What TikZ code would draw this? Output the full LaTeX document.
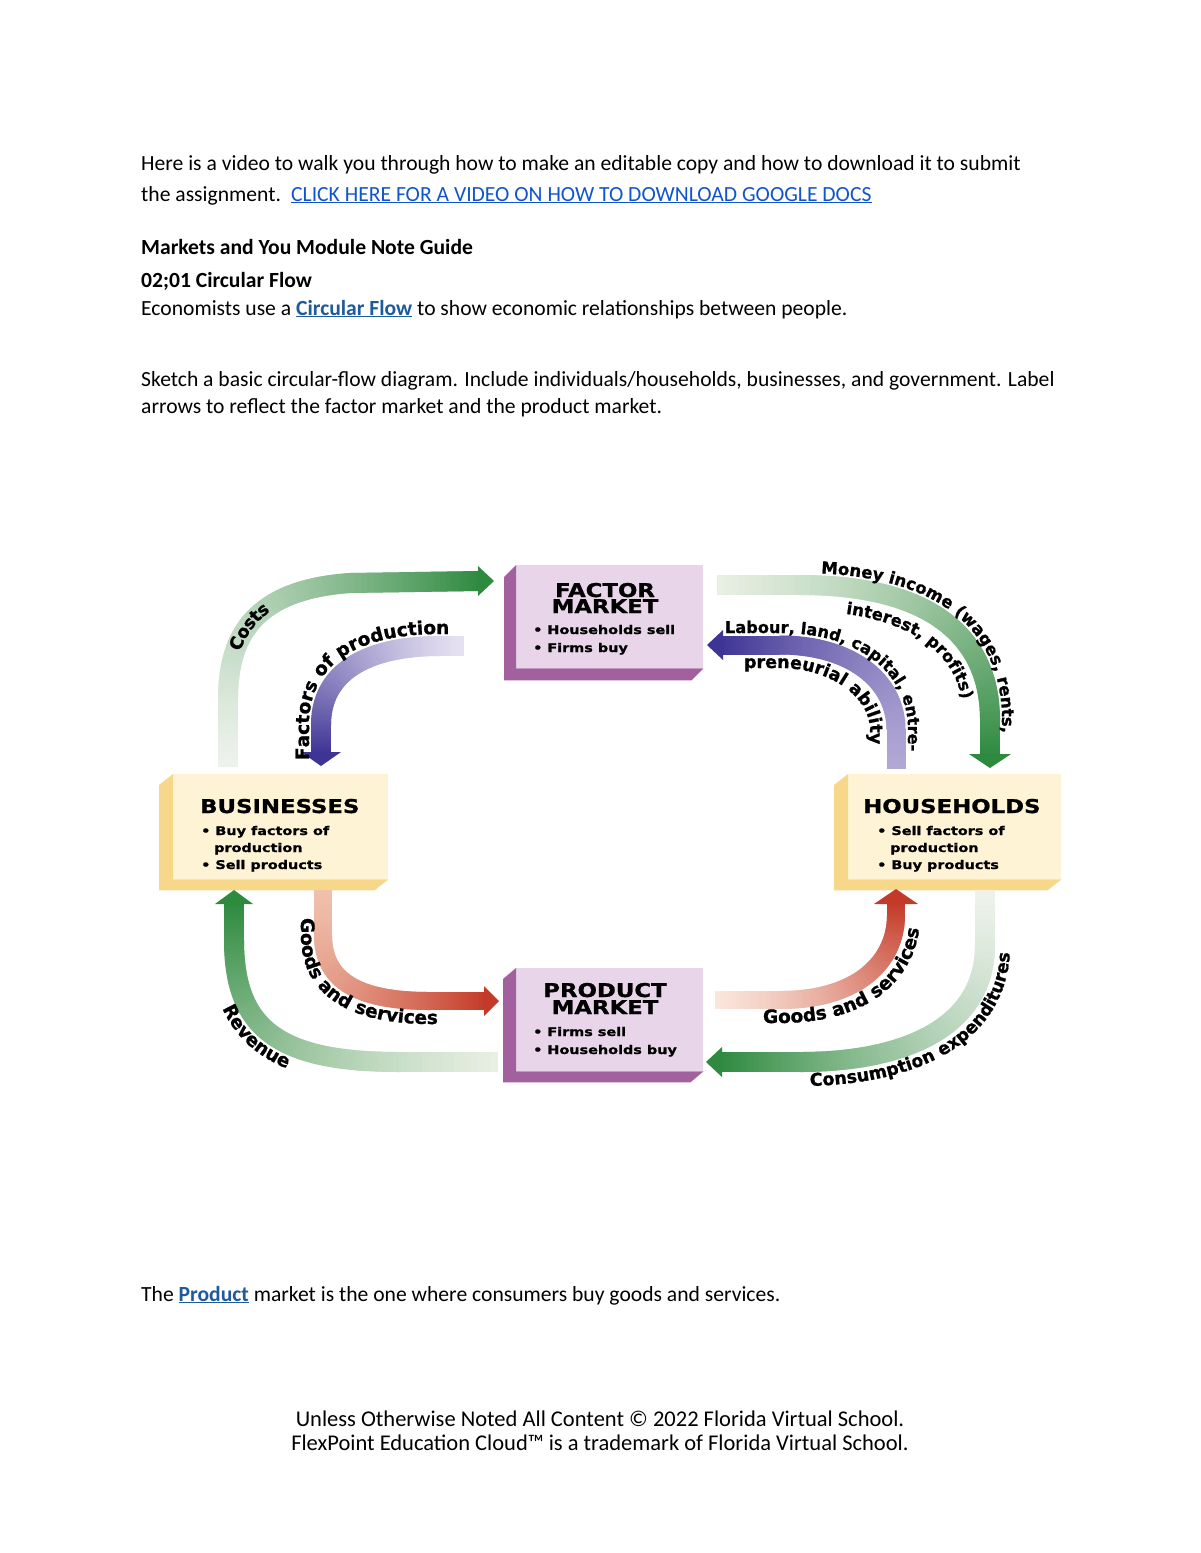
\documentclass[tikz,border=0pt]{standalone}
\usepackage{fontspec}
\setmainfont{Carlito}
\newfontfamily\lblfont[BoldFeatures={FakeBold=1}]{DejaVu Sans}
\newfontfamily\boxfont[FakeStretch=1.2,BoldFeatures={FakeBold=1}]{DejaVu Sans}
\usetikzlibrary{decorations.markings,decorations.text,calc}
\definecolor{linkblue}{HTML}{1155CC}
\definecolor{darklink}{HTML}{1F5A9C}
\definecolor{gHi}{HTML}{2E8A3F}
\definecolor{gLoA}{HTML}{EEF2EC}
\definecolor{gLoB}{HTML}{E8EFE3}
\definecolor{pHi}{HTML}{3E3495}
\definecolor{pLoA}{HTML}{E6E1F2}
\definecolor{pLoB}{HTML}{B2A8D6}
\definecolor{rHi}{HTML}{C43A28}
\definecolor{rLoA}{HTML}{F0C0AC}
\definecolor{rLoB}{HTML}{FBE6DC}
\definecolor{mktF}{HTML}{E8D5E9}
\definecolor{mktS}{HTML}{A3609F}
\definecolor{hhF}{HTML}{FEF4D5}
\definecolor{hhS}{HTML}{F7D78A}
\tikzset{
  bodytxt/.style={anchor=base west, inner sep=0pt, font=\fontsize{21.6}{26}\selectfont},
  foottxt/.style={anchor=base, inner sep=0pt, font=\fontsize{22.5}{26}\selectfont},
  mktface/.style={fill=mktF, inner sep=0pt, minimum width=187pt, minimum height=103pt, anchor=north west},
  hhface/.style={fill=hhF, inner sep=0pt, minimum width=214pt, minimum height=105pt, anchor=north west},
  boxtitle/.style={inner sep=0pt, font=\boxfont\bfseries\fontsize{19}{19}\selectfont},
  boxitem/.style={inner sep=0pt, anchor=base west, font=\boxfont\bfseries\fontsize{12}{12}\selectfont},
  gband/.style n args={3}{
    decoration={markings,
      mark=between positions 0 and 1 step 1pt with {
        \pgfmathsetmacro\gfr{\pgfkeysvalueof{/pgf/decoration/mark info/distance from start}/\pgfdecoratedpathlength}
        \pgfmathtruncatemacro\gpct{100*\gfr*(0.55+0.45*\gfr)}
        \fill[#2!\gpct!#1] (-0.8pt,-#3) rectangle (0.8pt,#3);
      }},
    decorate},
  lbltext/.style n args={4}{decorate,
    decoration={text along path, text={|\lblfont\bfseries\fontsize{#4}{#4}\selectfont|#1}, text align={left indent=#2}, raise=#3}},
}
\begin{document}
\begin{tikzpicture}[x=1pt,y=-1pt]
\fill[white] (0,0) rectangle (1200,1553);
\useasboundingbox (0,0) rectangle (1200,1553);

% ---------- document text ----------
\node[bodytxt] (t1) at (141,170) {Here is a video to walk you through how to make an editable copy and how to download it to submit};
\node[bodytxt] (t2) at (141,201) {the assignment.};
\node[bodytxt, text=linkblue] (t2link) at (291,201) {\underline{CLICK HERE FOR A VIDEO ON HOW TO DOWNLOAD GOOGLE DOCS}};
\node[bodytxt, font=\fontsize{21.6}{26}\selectfont\bfseries] (t3) at (141,254) {Markets and You Module Note Guide};
\node[bodytxt, font=\fontsize{21.6}{26}\selectfont\bfseries] (t4) at (141,287) {02;01 Circular Flow};
\node[bodytxt] (t5) at (141,315) {Economists use a \textcolor{darklink}{\underline{\textbf{Circular Flow}}} to show economic relationships between people.};
\node[bodytxt] (t6) at (141,386) {Sketch a basic circular-flow diagram. Include individuals/households, businesses, and government. Label};
\node[bodytxt] (t7) at (141,413) {arrows to reflect the factor market and the product market.};
\node[bodytxt] (t8) at (141,1301) {The \textcolor{darklink}{\underline{\textbf{Product}}} market is the one where consumers buy goods and services.};
\node[foottxt] (f1) at (600,1426) {Unless Otherwise Noted All Content © 2022 Florida Virtual School.};
\node[foottxt] (f2) at (600,1450) {FlexPoint Education Cloud™ is a trademark of Florida Virtual School.};

% ---------- boxes ----------
\node[mktface] (factor) at (516,565) {};
\fill[mktS] (factor.north west) -- ++(-12,12) -- ($(factor.south west)+(-12,12)$) -- ($(factor.south east)+(-12,12)$) -- (factor.south east) -- (factor.south west) -- cycle;
\node[boxtitle, anchor=base] (fm1) at (605,597) {FACTOR};
\node[boxtitle, anchor=base] (fm2) at (605,613) {MARKET};
\node[boxitem] (fm3) at (533,634) {• Households sell};
\node[boxitem] (fm4) at (533,652) {• Firms buy};

\node[mktface] (product) at (516,968) {};
\fill[mktS] (product.north west) -- ++(-13,11) -- ($(product.south west)+(-13,11)$) -- ($(product.south east)+(-13,11)$) -- (product.south east) -- (product.south west) -- cycle;
\node[boxtitle, anchor=base] (pm1) at (605,997) {PRODUCT};
\node[boxtitle, anchor=base] (pm2) at (605,1014) {MARKET};
\node[boxitem] (pm3) at (533,1036) {• Firms sell};
\node[boxitem] (pm4) at (533,1054) {• Households buy};

\node[hhface, minimum width=215pt] (business) at (173,774) {};
\fill[hhS] (business.north west) -- ++(-14,11) -- ($(business.south west)+(-14,11)$) -- ($(business.south east)+(-14,11)$) -- (business.south east) -- (business.south west) -- cycle;
\node[boxtitle, anchor=base west] (bs1) at (200,813) {BUSINESSES};
\node[boxitem] (bs2) at (201,835) {• Buy factors of};
\node[boxitem] (bs3) at (214,852) {production};
\node[boxitem] (bs4) at (201,869) {• Sell products};

\node[hhface, minimum width=213pt] (house) at (848,774) {};
\fill[hhS] (house.north west) -- ++(-14,11) -- ($(house.south west)+(-14,11)$) -- ($(house.south east)+(-14,11)$) -- (house.south east) -- (house.south west) -- cycle;
\node[boxtitle, anchor=base west] (hh1) at (863,813) {HOUSEHOLDS};
\node[boxitem] (hh2) at (877,835) {• Sell factors of};
\node[boxitem] (hh3) at (890,852) {production};
\node[boxitem] (hh4) at (877,869) {• Buy products};

% ---------- arrow end points ----------
\coordinate (cost0) at (228,766);   \coordinate (cost1) at (479,581);
\coordinate (fac0) at (463,646);    \coordinate (fac1) at (321,753);
\coordinate (mon0) at (718,585);    \coordinate (mon1) at (990,755);
\coordinate (lab0) at (896,768);    \coordinate (lab1) at (722,645);
\coordinate (gdl0) at (323,891);    \coordinate (gdl1) at (485,1001);
\coordinate (rev0) at (497,1062);   \coordinate (rev1) at (234,904);
\coordinate (gdr0) at (716,1000);   \coordinate (gdr1) at (896,904);
\coordinate (con0) at (985,892);    \coordinate (con1) at (722,1062);

% ---------- arrows ----------
% Costs
\path[gband={gLoA}{gHi}{10pt}] (cost0) -- (228,700) .. controls (228,640) and (250,590) .. (350,583) -- (cost1);
\fill[gHi] (494,581) -- (478,566) -- (478,596) -- cycle;
% Factors of production
\path[gband={pLoA}{pHi}{10pt}] (fac0) -- (440,646) .. controls (370,646) and (321,670) .. (321,725) -- (fac1);
\fill[pHi] (321,766) -- (301,752) -- (341,752) -- cycle;
% Money income
\path[gband={gLoB}{gHi}{10pt}] (mon0) -- (800,585) .. controls (935,585) and (990,640) .. (990,720) -- (mon1);
\fill[gHi] (990,768) -- (969,754) -- (1011,754) -- cycle;
% Labour
\path[gband={pLoB}{pHi}{9.5pt}] (lab0) -- (896,730) .. controls (896,680) and (850,645) .. (780,645) -- (lab1);
\fill[pHi] (707,645) -- (723,630) -- (723,660) -- cycle;
% Goods and services (left)
\path[gband={rLoA}{rHi}{9pt}] (gdl0) -- (323,935) .. controls (323,985) and (365,1001) .. (430,1001) -- (gdl1);
\fill[rHi] (499,1001) -- (484,986) -- (484,1016) -- cycle;
% Revenue
\path[gband={gLoB}{gHi}{10pt}] (rev0) -- (400,1062) .. controls (280,1062) and (234,1030) .. (234,940) -- (rev1);
\fill[gHi] (234,890) -- (215,904) -- (253,904) -- cycle;
% Goods and services (right)
\path[gband={rLoB}{rHi}{9pt}] (gdr0) -- (780,1000) .. controls (860,1000) and (896,960) .. (896,915) -- (gdr1);
\fill[rHi] (896,889) -- (874,904) -- (918,904) -- cycle;
% Consumption expenditures
\path[gband={gLoA}{gHi}{10pt}] (con0) -- (985,945) .. controls (985,1030) and (900,1062) .. (800,1062) -- (con1);
\fill[gHi] (706,1062) -- (722,1047) -- (722,1077) -- cycle;

% ---------- curved labels ----------
\path[lbltext={Costs}{117pt}{-5pt}{17.5}] (cost0) -- (228,700) .. controls (228,640) and (250,590) .. (350,583) -- (cost1);
\path[lbltext={Factors of production}{15pt}{0pt}{18.5}] (309,775) -- (309,725) .. controls (309,662) and (360,634) .. (440,634) -- (520,634);
\path[lbltext={Money income (wages, rents,}{103pt}{0pt}{16.6}] (718,573) -- (800,573) .. controls (944,573) and (1002,634) .. (1002,720) -- (1002,820);
\path[lbltext={interest, profits)}{128pt}{0pt}{16.5}] (718,611) -- (800,611) .. controls (911,611) and (964,655) .. (964,720) -- (964,820);
\path[lbltext={Labour, land, capital, entre-}{2pt}{0pt}{16.2}] (723,633) -- (780,633) .. controls (858,633) and (908,672) .. (908,730) -- (908,820);
\path[lbltext={preneurial ability}{21pt}{0pt}{17.5}] (723,668) -- (780,668) .. controls (830,668) and (870,697) .. (870,730) -- (870,820);
\path[lbltext={Goods and services}{27pt}{0pt}{18.5}] (301,891) -- (301,935) .. controls (301,997) and (352,1024) .. (430,1024) -- (560,1024);
\path[lbltext={Revenue}{120pt}{0pt}{18.5}] (210,890) -- (210,940) .. controls (210,1042) and (270,1086) .. (400,1086) -- (500,1086);
\path[lbltext={Goods and services}{47pt}{0pt}{18.5}] (716,1023) -- (780,1023) .. controls (877,1023) and (920,972) .. (920,915) -- (920,820);
\path[lbltext={Consumption expenditures}{110pt}{0pt}{17.5}] (700,1086) -- (800,1086) .. controls (918,1086) and (1010,1042) .. (1010,945) -- (1010,820);
\end{tikzpicture}
\end{document}
